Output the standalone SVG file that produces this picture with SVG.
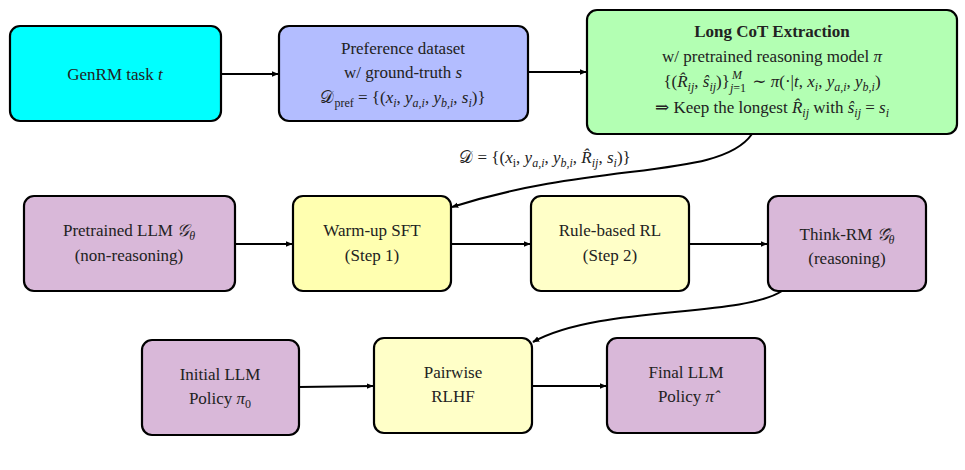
<svg xmlns="http://www.w3.org/2000/svg" width="965" height="470" viewBox="0 0 965 470">
<defs>
<marker id="ah" viewBox="0 0 10 10" refX="9" refY="5" markerWidth="7" markerHeight="7" orient="auto" markerUnits="userSpaceOnUse"><path d="M0,1 L10,5 L0,9 z" fill="#000"/></marker>
<style>
.b{stroke:#000;stroke-width:2.2}
text{font-family:"Liberation Serif","DejaVu Serif",serif;font-size:17px;text-anchor:middle;fill:#222}
.m{font-style:italic}
.s{font-size:12px}
.c{fill:none;stroke:#000;stroke-width:2;marker-end:url(#ah)}
</style>
</defs>
<g id="connectors">
<path class="c" d="M221,74 L278,74"/>
<path class="c" d="M528,72 L586,72"/>
<path class="c" d="M235,244 L292,244"/>
<path class="c" d="M451,244 L530,244"/>
<path class="c" d="M689,244 L767,244"/>
<path class="c" d="M299,387 L373,386"/>
<path class="c" d="M532,386 L606,386"/>
<path class="c" d="M752,134 C720,180 600,160 452,207"/>
<path class="c" d="M782,291 C740,318 600,305 533,342"/>
<text x="545" y="163">𝒟 = {(<tspan class="m">x</tspan><tspan class="s" dy="4">i</tspan><tspan dy="-4">, </tspan><tspan class="m">y</tspan><tspan class="s m" dy="4">a,i</tspan><tspan dy="-4">, </tspan><tspan class="m">y</tspan><tspan class="s m" dy="4">b,i</tspan><tspan dy="-4">, </tspan><tspan class="m">R̂</tspan><tspan class="s m" dy="4">ij</tspan><tspan dy="-4">, </tspan><tspan class="m">s</tspan><tspan class="s m" dy="4">i</tspan><tspan dy="-4">)}</tspan></text>
</g>
<g id="genrm"><rect class="b" x="10" y="26" width="211" height="95" rx="10" fill="#00ffff"/><text x="115" y="80">GenRM task <tspan class="m">t</tspan></text></g>
<g id="pref"><rect class="b" x="279" y="26" width="249" height="95" rx="10" fill="#b3bdff"/>
<text x="403" y="54">Preference dataset</text>
<text x="403" y="78">w/ ground-truth <tspan class="m">s</tspan></text>
<text x="403" y="103">𝒟<tspan class="s" dy="4">pref</tspan><tspan dy="-4"> = {(</tspan><tspan class="m">x</tspan><tspan class="s m" dy="4">i</tspan><tspan dy="-4">, </tspan><tspan class="m">y</tspan><tspan class="s m" dy="4">a,i</tspan><tspan dy="-4">, </tspan><tspan class="m">y</tspan><tspan class="s m" dy="4">b,i</tspan><tspan dy="-4">, </tspan><tspan class="m">s</tspan><tspan class="s m" dy="4">i</tspan><tspan dy="-4">)}</tspan></text></g>
<g id="cot"><rect class="b" x="587" y="10" width="370" height="124" rx="10" fill="#b3ffb3"/>
<text x="772" y="37" font-weight="bold" font-size="18">Long CoT Extraction</text>
<text x="772" y="62">w/ pretrained reasoning model <tspan class="m">π</tspan></text>
<text x="772" y="87">{(<tspan class="m">R̂</tspan><tspan class="s m" dy="4">ij</tspan><tspan dy="-4">, </tspan><tspan class="m">ŝ</tspan><tspan class="s m" dy="4">ij</tspan><tspan dy="-4">)}</tspan><tspan class="s m" dy="5">j</tspan><tspan class="s">=1</tspan><tspan class="s m" dx="-14" dy="-13">M</tspan><tspan dx="6" dy="8"> ∼ </tspan><tspan class="m">π</tspan>(·|<tspan class="m">t</tspan>, <tspan class="m">x</tspan><tspan class="s m" dy="4">i</tspan><tspan dy="-4">, </tspan><tspan class="m">y</tspan><tspan class="s m" dy="4">a,i</tspan><tspan dy="-4">, </tspan><tspan class="m">y</tspan><tspan class="s m" dy="4">b,i</tspan><tspan dy="-4">)</tspan></text>
<text x="772" y="113">⇒ Keep the longest <tspan class="m">R̂</tspan><tspan class="s m" dy="4">ij</tspan><tspan dy="-4"> with </tspan><tspan class="m">ŝ</tspan><tspan class="s m" dy="4">ij</tspan><tspan dy="-4"> = </tspan><tspan class="m">s</tspan><tspan class="s m" dy="4">i</tspan></text></g>
<g id="pretrained"><rect class="b" x="24" y="196" width="211" height="95" rx="10" fill="#d9b8d9"/>
<text x="129" y="236">Pretrained LLM <tspan class="m">𝒢</tspan><tspan class="s m" dy="4">θ</tspan></text>
<text x="129" y="261">(non-reasoning)</text></g>
<g id="warmup"><rect class="b" x="293" y="196" width="158" height="95" rx="10" fill="#ffffb0"/>
<text x="372" y="236">Warm-up SFT</text><text x="372" y="261">(Step 1)</text></g>
<g id="rl"><rect class="b" x="531" y="196" width="158" height="95" rx="10" fill="#ffffc8"/>
<text x="610" y="236">Rule-based RL</text><text x="610" y="261">(Step 2)</text></g>
<g id="thinkrm"><rect class="b" x="768" y="196" width="158" height="95" rx="10" fill="#d9b8d9"/>
<text x="847" y="240">Think-RM <tspan class="m">𝒢̂</tspan><tspan class="s m" dy="4">θ</tspan></text><text x="847" y="264">(reasoning)</text></g>
<g id="initial"><rect class="b" x="142" y="340" width="157" height="95" rx="10" fill="#d9b8d9"/>
<text x="220" y="380">Initial LLM</text><text x="220" y="404">Policy <tspan class="m">π</tspan><tspan class="s" dy="4">0</tspan></text></g>
<g id="pairwise"><rect class="b" x="374" y="338" width="158" height="95" rx="10" fill="#ffffc8"/>
<text x="453" y="378">Pairwise</text><text x="453" y="402">RLHF</text></g>
<g id="final"><rect class="b" x="607" y="338" width="158" height="95" rx="10" fill="#d9b8d9"/>
<text x="686" y="378">Final LLM</text><text x="686" y="402">Policy <tspan class="m">π̂</tspan></text></g>
</svg>
